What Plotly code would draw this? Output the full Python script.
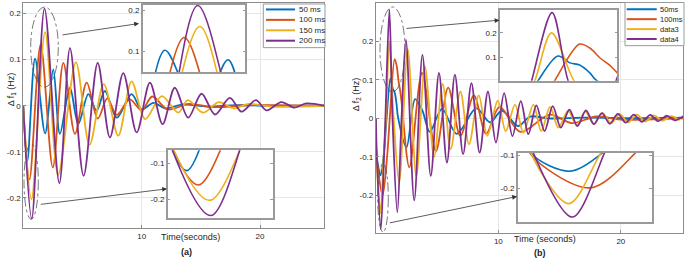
import plotly.graph_objects as go

# ---------------- data ----------------
# (a) Delta f1
t_a_50 = [0, 0.35, 1.0, 1.85, 2.54, 3.1, 3.95, 4.65, 5.5, 6.2, 6.9, 7.9, 9.15, 10.0, 11.0, 12.0, 13.5, 15.5, 18, 21, 25.4]
y_a_50 = [0, -0.12, 0.102, -0.06, 0.079, -0.061, 0.039, -0.04, 0.025, -0.011, 0.032, -0.026, 0.025, -0.008, 0.006, -0.006, 0.003, -0.002, 0.001, 0, 0]

t_a_100 = [0, 0.53, 1.47, 2.5, 3.39, 4.37, 5.36, 6.3, 7.1, 7.9, 9.0, 10.0, 10.9, 12.2, 14.0, 16.0, 19.0, 25.4]
y_a_100 = [0, -0.16, 0.133, -0.134, 0.093, -0.061, 0.05, -0.028, 0.016, -0.02, 0.014, -0.01, 0.02, -0.008, 0.004, -0.003, 0.001, 0]

t_a_150 = [0, 0.7, 1.85, 2.95, 4.45, 5.6, 6.8, 8.03, 9.15, 10.3, 11.7, 13.1, 13.9, 15.2, 16.5, 17.8, 19.0, 21.0, 25.4]
y_a_150 = [0, -0.203, 0.16, -0.15, 0.094, -0.085, 0.047, -0.065, 0.053, -0.029, 0.021, -0.015, 0.012, -0.015, 0.008, -0.006, 0.004, -0.002, 0]

t_a_200 = [0, 0.72, 1.8, 3.05, 3.95, 5.1, 6.29, 7.32, 8.45, 9.58, 10.7, 11.77, 12.8, 13.93, 15.06, 16.19, 17.45, 18.44, 19.65, 20.55, 21.8, 22.9, 23.9, 25.4]
y_a_200 = [0, -0.245, 0.211, -0.168, 0.125, -0.152, 0.093, -0.069, 0.071, -0.058, 0.05, -0.04, 0.039, -0.026, 0.026, -0.019, 0.017, -0.013, 0.012, -0.01, 0.008, -0.004, 0.005, 0]

# (b) Delta f2
t_b_50 = [0, 0.05, 0.38, 0.65, 0.88, 1.19, 1.38, 1.53, 1.69, 1.8, 2.5, 3.2, 3.8, 4.4, 5.4, 6.6, 8.2, 9.3, 10.3, 11.6, 12.6, 14.0, 17.0, 21.0, 25.1]
y_b_50 = [0, -0.093, -0.148, -0.093, 0.004, 0.105, 0.077, 0.068, 0.036, 0.004, -0.075, 0.05, 0.02, -0.035, 0.025, -0.04, 0.027, -0.01, 0.02, -0.02, 0.005, 0.0, 0.002, 0.001, 0.002]

t_b_100 = [0, 0.04, 0.55, 0.93, 1.14, 1.53, 1.69, 1.85, 2.0, 2.12, 2.73, 3.77, 4.9, 5.9, 6.9, 8.0, 9.0, 10.1, 11.8, 14.2, 16.0, 18.0, 20.0, 25.1]
y_b_100 = [0, -0.093, -0.199, -0.093, 0.004, 0.154, 0.138, 0.097, 0.068, 0.036, -0.127, 0.118, -0.085, 0.08, -0.045, 0.06, -0.04, 0.03, -0.035, 0.01, -0.012, 0.005, -0.003, 0]

t_b_150 = [0, 0.05, 0.37, 0.64, 0.83, 1.09, 1.44, 1.9, 2.6, 3.3, 4.0, 4.75, 5.45, 6.1, 6.9, 7.6, 8.4, 9.1, 9.95, 10.6, 11.36, 12.04, 12.86, 13.5, 14.22, 14.9, 15.7, 16.4, 17.1, 17.8, 18.5, 19.2, 19.9, 20.6, 21.3, 22.0, 22.7, 23.4, 24.1, 24.8]
y_b_150 = [0, -0.093, -0.247, -0.093, 0.004, 0.2, 0.004, -0.166, 0.18, -0.15, 0.135, -0.1, 0.09, -0.08, 0.07, -0.067, 0.06, -0.045, 0.046, -0.033, 0.036, -0.037, 0.036, -0.033, 0.03, -0.024, 0.02, -0.018, 0.018, -0.015, 0.014, -0.012, 0.012, -0.01, 0.01, -0.008, 0.008, -0.006, 0.006, -0.005]

t_b_200 = [0, 0.07, 0.4, 0.67, 0.78, 1.1, 1.35, 1.75, 2.1, 2.45, 3.13, 3.8, 4.48, 5.15, 5.8, 6.45, 7.12, 7.8, 8.47, 9.15, 9.8, 10.47, 11.15, 11.83, 12.45, 13.1, 13.77, 14.44, 15.1, 15.8, 16.45, 17.15, 17.8, 18.45, 19.1, 19.75, 20.4, 21.05, 21.72, 22.4, 23.05, 23.75, 24.4, 25.1]
y_b_200 = [0, -0.093, -0.288, -0.093, 0.004, 0.283, 0.004, -0.244, 0.004, 0.204, -0.213, 0.165, -0.149, 0.118, -0.115, 0.114, -0.093, 0.092, -0.089, 0.07, -0.063, 0.066, -0.046, 0.045, -0.041, 0.034, -0.033, 0.032, -0.024, 0.023, -0.02, 0.021, -0.015, 0.014, -0.014, 0.012, -0.011, 0.01, -0.009, 0.009, -0.007, 0.007, -0.005, 0.006]

names_a = ["50 ms", "100 ms", "150 ms", "200 ms"]
names_b = ["50ms", "100ms", "data3", "data4"]

y_ticks_main = [-0.2, -0.1, 0, 0.1, 0.2]
y_ticktext_main = ["-0.2", "-0.1", "0", "0.1", "0.2"]
x_ticks_main = [10, 20]
x_ticktext_main = ["10", "20"]
inset_up_ticks = [0.1, 0.2]
inset_up_text = ["0.1", "0.2"]
inset_low_ticks = [-0.2, -0.1]
inset_low_text = ["-0.2", "-0.1"]

series_a = [(t_a_50, y_a_50), (t_a_100, y_a_100), (t_a_150, y_a_150), (t_a_200, y_a_200)]
series_b = [(t_b_50, y_b_50), (t_b_100, y_b_100), (t_b_150, y_b_150), (t_b_200, y_b_200)]
colors = ["#0072BD", "#D95319", "#EDB120", "#7E2F8E"]

# ---------------- layout helpers ----------------
W, H = 685, 258
FONT = "Liberation Sans, Arial, sans-serif"


def PX(x):
    return x / W


def PY(y):
    return 1 - y / H


fig = go.Figure()

groups = [
    (series_a, names_a, [("x", "y", 1.8), ("x3", "y3", 1.6), ("x4", "y4", 1.6)]),
    (series_b, names_b, [("x2", "y2", 1.8), ("x5", "y5", 1.6), ("x6", "y6", 1.6)]),
]
for series, names, axes in groups:
    for xa, ya, lw in axes:
        for (t, v), c, n in zip(series, colors, names):
            fig.add_trace(go.Scatter(
                x=t, y=v, mode="lines", name=n, showlegend=False,
                line=dict(color=c, width=lw, shape="spline", smoothing=0.9),
                xaxis=xa, yaxis=ya, hoverinfo="skip"))

axis_gray = "#8c8c8c"
tickfont = dict(family=FONT, size=8, color="#262626")


def main_axis(domain, rng, tickvals, ticktext, anchor, grid=True):
    return dict(domain=domain, range=rng, anchor=anchor, showline=True, mirror=True,
                linecolor=axis_gray, linewidth=1, showgrid=grid, gridcolor="#e6e6e6",
                gridwidth=1, zeroline=False, ticks="inside", ticklen=3,
                tickcolor=axis_gray, tickvals=tickvals, ticktext=ticktext,
                tickfont=tickfont, fixedrange=True)


def inset_x(domain, rng, anchor):
    return dict(domain=domain, range=rng, anchor=anchor, showline=True, mirror=True,
                linecolor="#9a9a9a", linewidth=1.5, showgrid=False, zeroline=False,
                showticklabels=False, ticks="", fixedrange=True)


def inset_y(domain, rng, anchor, tv, tt):
    return dict(domain=domain, range=rng, anchor=anchor, showline=True, mirror="ticks",
                linecolor="#9a9a9a", linewidth=1.5, showgrid=False, zeroline=False,
                ticks="inside", ticklen=3, tickcolor="#9a9a9a", tickvals=tv, ticktext=tt,
                tickfont=tickfont, fixedrange=True)


layout = dict(
    width=W, height=H, margin=dict(l=0, r=0, t=0, b=0),
    paper_bgcolor="white", plot_bgcolor="white", showlegend=False,
    font=dict(family=FONT, color="#262626"),
    xaxis=main_axis([PX(23.2), PX(324)], [0, 25.4], x_ticks_main, x_ticktext_main, "y"),
    yaxis=main_axis([PY(228), PY(1.5)], [-0.266, 0.222], y_ticks_main, y_ticktext_main, "x"),
    xaxis2=main_axis([PX(375.9), PX(683.3)], [0, 25.1], x_ticks_main, x_ticktext_main, "y2"),
    yaxis2=main_axis([PY(233.3), PY(1)], [-0.299, 0.300], y_ticks_main, y_ticktext_main, "x2"),
    xaxis3=inset_x([PX(142.7), PX(245.3)], [0.46, 2.96], "y3"),
    yaxis3=inset_y([PY(71), PY(2.7)], [0.048, 0.213], "x3", inset_up_ticks, inset_up_text),
    xaxis4=inset_x([PX(167.7), PX(272.7)], [0.058, 1.67], "y4"),
    yaxis4=inset_y([PY(217.7), PY(149.3)], [-0.252, -0.063], "x4", inset_low_ticks, inset_low_text),
    xaxis5=inset_x([PX(500), PX(617.3)], [0.285, 2.12], "y5"),
    yaxis5=inset_y([PY(79.3), PY(8)], [0.004, 0.294], "x5", inset_up_ticks, inset_up_text),
    xaxis6=inset_x([PX(517.7), PX(651.7)], [-0.063, 1.07], "y6"),
    yaxis6=inset_y([PY(221.7), PY(152.3)], [-0.303, -0.093], "x6", inset_low_ticks, inset_low_text),
)
fig.update_layout(**layout)

shapes = []
# dash-dot ellipses
for (x0, x1, y0, y1) in [(30.7, 58.3, 5, 86), (24, 38.3, 142.7, 219),
                         (380, 405, 5, 90.7), (377.7, 388.3, 163, 232)]:
    shapes.append(dict(type="circle", xref="paper", yref="paper",
                       x0=PX(x0), x1=PX(x1), y0=PY(y1), y1=PY(y0),
                       line=dict(color="#555555", width=0.8, dash="dashdot"),
                       layer="above"))

# manual legends
legends = [
    (names_a, (263.3, 325, 2, 46), (266, 295), 297, [7.5, 18, 28.5, 39], 8),
    (names_b, (625, 684, 0.5, 44), (626.7, 656.7), 658.3, [7.3, 17.3, 27.3, 37.3], 7.5),
]
annotations = []
for names, (bx0, bx1, by0, by1), (lx0, lx1), tx, rows, fs in legends:
    shapes.append(dict(type="rect", xref="paper", yref="paper", x0=PX(bx0), x1=PX(bx1),
                       y0=PY(by1), y1=PY(by0), fillcolor="white",
                       line=dict(color="#9a9a9a", width=1), layer="above"))
    for n, c, ry in zip(names, colors, rows):
        shapes.append(dict(type="line", xref="paper", yref="paper", x0=PX(lx0), x1=PX(lx1),
                           y0=PY(ry), y1=PY(ry), line=dict(color=c, width=2), layer="above"))
        annotations.append(dict(text=n, x=PX(tx), y=PY(ry), xref="paper", yref="paper",
                                xanchor="left", yanchor="middle", showarrow=False,
                                font=dict(family=FONT, size=fs, color="#262626")))

# arrows (tail -> head)
for (tx0, ty0, hx, hy) in [(61, 33.3, 139, 21.7), (39.3, 204, 167, 188.3),
                           (405, 26.7, 499.5, 18.3), (388.3, 222.7, 517, 196)]:
    annotations.append(dict(text="", x=PX(hx), y=PY(hy), xref="paper", yref="paper",
                            ax=tx0 - hx, ay=ty0 - hy, axref="pixel", ayref="pixel",
                            showarrow=True, arrowhead=2, arrowsize=1.2, arrowwidth=0.8,
                            arrowcolor="#333333", standoff=0))

# axis titles and panel labels
txt = [
    ("Time(seconds)", 190, 237, 9, 0, False),
    ("Time (seconds)", 545, 238.5, 9, 0, False),
    ("(a)", 186, 251.5, 9, 0, True),
    ("(b)", 540, 252.5, 9, 0, True),
    ("Δ f<sub>1</sub> (Hz)", 11, 88, 9, -90, False),
    ("Δ f<sub>2</sub> (Hz)", 356, 93, 9, -90, False),
]
for s, x, y, fs, ang, bold in txt:
    annotations.append(dict(text=("<b>%s</b>" % s) if bold else s, x=PX(x), y=PY(y),
                            xref="paper", yref="paper", xanchor="center", yanchor="middle",
                            showarrow=False, textangle=ang,
                            font=dict(family=FONT, size=fs, color="#262626")))

fig.update_layout(shapes=shapes, annotations=annotations)
fig.write_html("out.html", config={"displayModeBar": False},
               post_script="document.body.style.margin='0';document.body.style.padding='0';")
